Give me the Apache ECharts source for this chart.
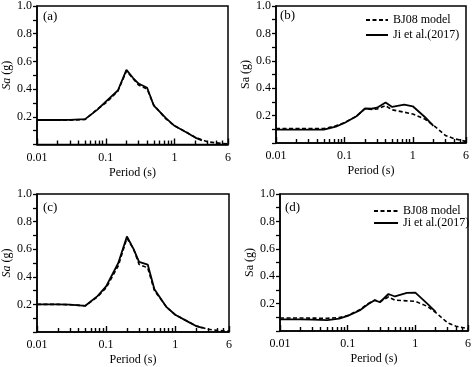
<!DOCTYPE html>
<html><head><meta charset="utf-8">
<script src="https://cdn.jsdelivr.net/npm/echarts@6/dist/echarts.min.js"></script>
<style>html,body{margin:0;padding:0;background:#fff}#c{width:474px;height:367px}</style>
</head><body><div id="c"></div>
<script>
// ---- data ----
const periodsJi = [0.01,0.02,0.03,0.05,0.075,0.1,0.15,0.2,0.25,0.3,0.4,0.5,0.75,1,1.5,2,2.5];
const periodsBJ = [0.01,0.02,0.03,0.05,0.075,0.1,0.15,0.2,0.25,0.3,0.4,0.5,0.75,1,1.5,2,3,4,5,6];

const jiA = [0.177,0.177,0.178,0.183,0.25,0.31,0.39,0.539,0.48,0.44,0.41,0.28,0.19,0.135,0.087,0.05,0.03];
const bjA = [0.175,0.175,0.176,0.18,0.255,0.30,0.385,0.53,0.475,0.43,0.40,0.285,0.185,0.135,0.088,0.052,0.02,0.012,0.007,0.005];

const jiB = [0.097,0.097,0.097,0.097,0.12,0.146,0.195,0.252,0.25,0.258,0.295,0.263,0.28,0.268,0.19,0.125];
const bjB = [0.105,0.105,0.105,0.105,0.125,0.148,0.195,0.25,0.245,0.248,0.272,0.242,0.225,0.212,0.175,0.13,0.055,0.032,0.02,0.012];

const jiC = [0.2,0.2,0.198,0.19,0.26,0.33,0.5,0.692,0.6,0.508,0.489,0.31,0.18,0.125,0.077,0.043,0.03];
const bjC = [0.2,0.2,0.198,0.19,0.255,0.32,0.48,0.68,0.6,0.49,0.465,0.30,0.18,0.125,0.078,0.045,0.02,0.012,0.008,0.006];

const jiD = [0.085,0.085,0.083,0.08,0.09,0.11,0.15,0.195,0.225,0.21,0.27,0.252,0.278,0.28,0.2,0.14];
const bjD = [0.095,0.095,0.094,0.093,0.098,0.113,0.155,0.2,0.225,0.215,0.248,0.225,0.22,0.216,0.18,0.135,0.06,0.035,0.025,0.017];

const panelLabels = ['(a)','(b)','(c)','(d)'];
const seriesNames = ['BJ08 model','Ji et al.(2017)'];
const xMin = 0.01, xMax = 6;
const xMinorTicks = [0.02,0.03,0.04,0.05,0.06,0.07,0.08,0.09,0.2,0.3,0.4,0.5,0.6,0.7,0.8,0.9,2,3,4,5];
const xAxisTitle = 'Period (s)';

// ---- layout / style ----
const FONT = "'Liberation Serif','Times New Roman',serif";
const grids = [
  {left:37, top:6, width:191, height:138.5},
  {left:276, top:6, width:190, height:137},
  {left:37, top:194, width:192, height:139},
  {left:280, top:194, width:190, height:137}
];
const panelData = [[jiA,bjA],[jiB,bjB],[jiC,bjC],[jiD,bjD]];
const italicSa = [true,false,true,false];

function pairs(xs, ys){ return ys.map((y,i)=>[xs[i], y]); }

const xAxes = [], yAxes = [], series = [], graphics = [];
grids.forEach((g,i)=>{
  xAxes.push({
    type:'log', gridIndex:i, min:xMin, max:xMax, logBase:10, position:'bottom',
    name: xAxisTitle, nameLocation:'middle', nameGap:22,
    nameTextStyle:{fontFamily:FONT, fontSize:12, color:'#000'},
    axisLine:{show:true, onZero:false, lineStyle:{color:'#000', width:1.5}},
    axisTick:{show:true, inside:true, length:6, lineStyle:{color:'#000', width:1.4}},
    axisLabel:{fontFamily:FONT, fontSize:12, color:'#000', margin:7,
      formatter:v=>String(+(+v).toPrecision(4))},
    splitLine:{show:false}
  });
  xAxes.push({
    type:'value', gridIndex:i, min:Math.log10(xMin), max:Math.log10(xMax), position:'bottom',
    axisLine:{show:false, onZero:false},
    axisTick:{show:true, inside:true, length:4, customValues:xMinorTicks.map(v=>Math.log10(v)),
      lineStyle:{color:'#000', width:1.4}},
    axisLabel:{show:false}, splitLine:{show:false}
  });
  yAxes.push({
    type:'value', gridIndex:i, min:0, max:1, interval:0.2,
    name: italicSa[i] ? '{i|Sa} (g)' : 'Sa (g)', nameLocation:'middle', nameGap:22, nameRotate:90,
    nameTextStyle:{fontFamily:FONT, fontSize:12, color:'#000',
      rich:{i:{fontStyle:'italic', fontFamily:FONT, fontSize:12, color:'#000'}}},
    axisLine:{show:true, onZero:false, lineStyle:{color:'#000', width:1.5}},
    axisTick:{show:true, inside:false, length:4, lineStyle:{color:'#000', width:1.3}},
    minorTick:{show:true, splitNumber:2, length:4, lineStyle:{color:'#000', width:1.3}},
    axisLabel:{fontFamily:FONT, fontSize:12, color:'#000', margin:5,
      formatter:v=> v===0 ? '' : v.toFixed(1)},
    splitLine:{show:false}
  });
  const [ji, bj] = panelData[i];
  series.push({
    name:seriesNames[0], type:'line', xAxisIndex:2*i, yAxisIndex:i,
    data:pairs(periodsBJ, bj), symbol:'none', smooth:false,
    itemStyle:{color:'#000'},
    lineStyle:{color:'#000', width:1.6, type:[4,2.5]}, z:3
  });
  series.push({
    name:seriesNames[1], type:'line', xAxisIndex:2*i, yAxisIndex:i,
    data:pairs(periodsJi.slice(0, ji.length), ji), symbol:'none', smooth:false,
    itemStyle:{color:'#000'},
    lineStyle:{color:'#000', width:1.8, type:'solid'}, z:4
  });
});

const labelPos = [[43,17],[280,16],[43,208],[285,208]];
panelLabels.forEach((t,i)=>{
  graphics.push({type:'text', left:labelPos[i][0], top:labelPos[i][1]-7,
    style:{text:t, fontFamily:FONT, fontSize:13, fill:'#000'}});
});

const legendCommon = {
  orient:'vertical', data:seriesNames, itemWidth:22, itemHeight:10,
  textStyle:{fontFamily:FONT, fontSize:12, color:'#000'}, itemGap:3,
  selectedMode:false,
  itemStyle:{color:'rgba(0,0,0,0)', borderColor:'rgba(0,0,0,0)', borderWidth:0},
  lineStyle:{color:'#000'}
};

const chart = echarts.init(document.getElementById('c'), null, {renderer:'canvas'});
chart.setOption({
  backgroundColor:'#fff',
  animation:false,
  grid: grids.map(g=>Object.assign({show:true, borderColor:'#000', borderWidth:1.5, backgroundColor:'transparent'}, g)),
  xAxis:xAxes, yAxis:yAxes, series:series,
  legend:[
    Object.assign({}, legendCommon, {left:360, top:9}),
    Object.assign({}, legendCommon, {left:368, top:200, itemGap:0, itemWidth:24})
  ],
  graphic:graphics
});
</script></body></html>
